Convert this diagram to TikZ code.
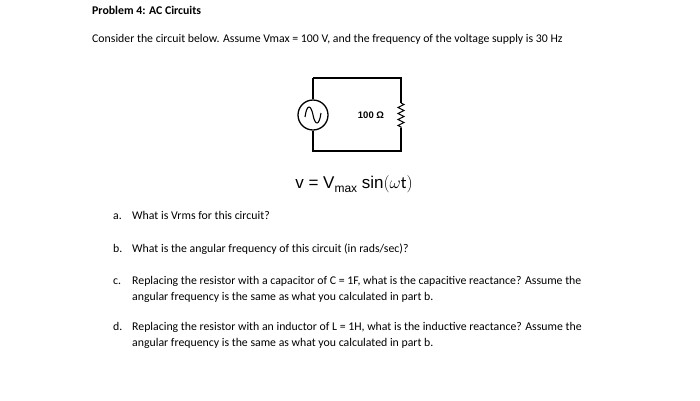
\documentclass[tikz,border=0pt]{standalone}
\usepackage{fontspec}
\setmainfont{Carlito}
\newfontfamily\arialf{Liberation Sans}
\usetikzlibrary{decorations.pathmorphing}
\begin{document}
\begin{tikzpicture}[x=1pt,y=-1pt,
  txt/.style={anchor=base west,inner sep=0pt,font=\fontsize{11.8}{14}\selectfont},
  wire/.style={line width=1.3pt}]
\useasboundingbox[fill=white] (0,0) rectangle (700,400);
\node[txt,font=\bfseries\fontsize{11.8}{14}\selectfont] (title) at (92,14) {Problem 4: AC Circuits};
\node[txt] (intro) at (92,42) {Consider the circuit below. Assume Vmax = 100 V, and the frequency of the voltage supply is 30 Hz};
% circuit
\coordinate (tl) at (313,78); \coordinate (tr) at (401,78);
\coordinate (bl) at (313,151); \coordinate (br) at (401,151);
\node[draw,circle,wire,minimum size=30pt,inner sep=0pt] (src) at (313,115) {};
\draw[wire] (tl) -- (tr) -- (401,103);
\draw[wire] (401,128) -- (br) -- (bl) -- (src.south);
\draw[wire] (src.north) -- (tl);
\draw[line width=1.1pt] (305,117) .. controls (307,103) and (311,105) .. (313,115) .. controls (315,125) and (319,127) .. (321,113);
\draw[line width=1pt,decorate,decoration={zigzag,segment length=6pt,amplitude=3pt}] (401,103) -- (401,128);
\node[font=\arialf\bfseries\fontsize{9.5}{11}\selectfont,inner sep=0pt] (rlab) at (371,115) {100 Ω};
\node[font=\arialf\fontsize{17}{20}\selectfont,inner sep=0pt] (eq) at (354,184) {v = V\raisebox{-4pt}{\fontsize{12}{14}\selectfont max} sin$\left(\omega\textrm{t}\right)$};
% questions
\foreach \l/\y in {a./219,b./252,c./284,d./330}{\node[txt] at (113,\y) {\l};}
\node[txt] (qa) at (132,219) {What is Vrms for this circuit?};
\node[txt] (qb) at (132,252) {What is the angular frequency of this circuit (in rads/sec)?};
\node[txt] (qc1) at (132,284) {Replacing the resistor with a capacitor of C = 1F, what is the capacitive reactance? Assume the};
\node[txt] (qc2) at (132,300) {angular frequency is the same as what you calculated in part b.};
\node[txt] (qd1) at (132,330) {Replacing the resistor with an inductor of L = 1H, what is the inductive reactance? Assume the};
\node[txt] (qd2) at (132,346) {angular frequency is the same as what you calculated in part b.};
\end{tikzpicture}
\end{document}
